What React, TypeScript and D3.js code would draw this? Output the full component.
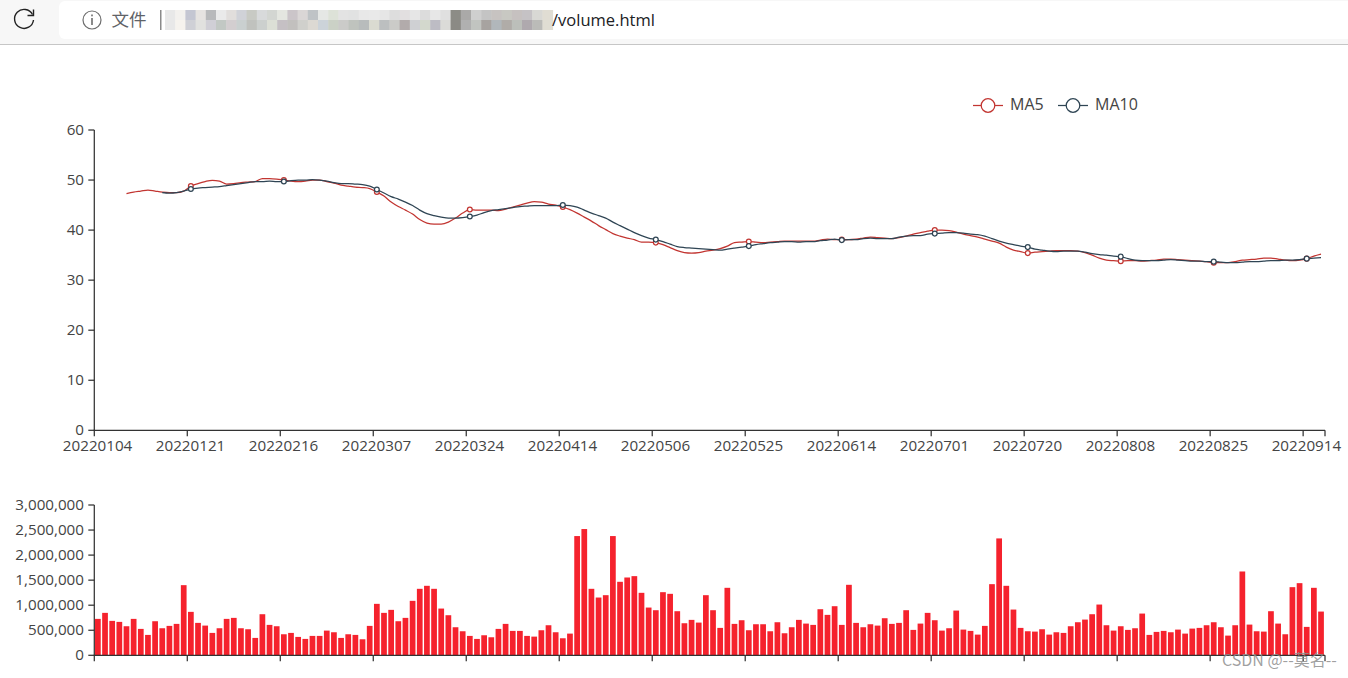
import React from "react";
import * as d3 from "d3";

const tickLabels = ["20220104","20220121","20220216","20220307","20220324","20220414","20220506","20220525","20220614","20220701","20220720","20220808","20220825","20220914"];
const tickEvery = 13;
const ma5Start = 4;
const ma10Start = 9;

const ma5 = [47.3,47.6,47.8,48,47.8,47.6,47.5,47.5,47.8,48.8,49.3,49.7,49.95,49.8,49.2,49.3,49.5,49.6,49.7,50.3,50.3,50.2,50,49.8,49.7,49.8,50,50,49.7,49.4,49,48.8,48.6,48.5,48.3,47.6,46.8,45.6,44.7,44,43.2,42.1,41.4,41.2,41.2,41.6,42.4,43.4,44.1,44,44,44,43.9,44.2,44.6,45,45.4,45.7,45.6,45.2,45,44.6,44.1,43.4,42.6,41.8,40.9,40.1,39.3,38.8,38.4,38.1,37.6,37.6,37.5,37.1,36.5,35.9,35.5,35.4,35.5,35.8,36,36.3,36.8,37.5,37.6,37.7,37.6,37.5,37.6,37.7,37.8,37.8,37.8,37.8,37.8,38,38.2,38.1,38.1,38.1,38.2,38.4,38.6,38.5,38.4,38.3,38.5,38.8,39.2,39.5,39.8,40,40,39.9,39.6,39.2,38.9,38.6,38.2,37.8,37.4,36.6,36,35.7,35.4,35.6,35.7,35.8,35.9,35.9,35.9,35.8,35.5,35,34.4,34,33.9,33.8,33.9,33.9,33.8,33.9,34,34.2,34.2,34.1,34,33.9,33.8,33.7,33.5,33.5,33.5,33.7,34,34.1,34.2,34.4,34.4,34.2,34,33.9,34,34.3,34.8,35.2];

const ma10 = [47.5,47.4,47.5,47.8,48.2,48.4,48.5,48.6,48.7,48.9,49.1,49.3,49.5,49.7,49.7,49.8,49.7,49.7,49.9,50,50,50.1,50,49.8,49.5,49.3,49.3,49.2,49.1,48.8,48.1,47.4,46.7,46.2,45.6,44.9,44,43.3,42.9,42.6,42.4,42.4,42.5,42.7,43,43.5,43.9,44.1,44.3,44.5,44.7,44.8,44.9,44.9,44.9,44.9,45,44.9,44.6,44,43.4,42.9,42.4,41.6,40.9,40.2,39.5,38.9,38.4,38.1,37.7,37.2,36.7,36.5,36.4,36.3,36.2,36.1,36,36.2,36.4,36.6,36.8,37.1,37.3,37.5,37.6,37.7,37.7,37.6,37.7,37.7,37.9,38,38.2,38,38.1,38.1,38.3,38.4,38.3,38.3,38.3,38.6,38.8,38.9,38.9,39.2,39.3,39.4,39.5,39.5,39.4,39.2,39.1,38.8,38.3,37.8,37.4,37.1,36.8,36.6,36.2,36,35.8,35.7,35.8,35.8,35.8,35.6,35.3,35.1,35,34.8,34.7,34.3,34,33.9,33.9,33.9,34,34.1,34,33.9,33.8,33.8,33.7,33.7,33.6,33.5,33.5,33.6,33.7,33.7,33.8,33.9,33.9,34,34,34.1,34.3,34.4,34.5];

const volume = [727,847,687,667,580,727,527,407,680,540,587,627,1400,867,647,593,447,540,727,747,540,520,347,820,607,580,420,447,367,327,387,387,493,460,347,420,407,320,587,1027,847,907,680,747,1087,1327,1387,1327,933,800,560,480,387,327,400,360,527,627,487,487,387,373,500,600,460,340,433,2380,2520,1327,1153,1200,2380,1467,1553,1580,1247,953,900,1260,1227,880,640,707,653,1200,900,547,1347,627,700,500,620,620,480,660,440,560,707,633,607,920,807,980,607,1407,647,560,620,593,740,627,647,900,507,633,847,700,493,540,893,513,487,413,587,1420,2333,1387,913,547,480,473,520,413,460,447,580,660,713,820,1013,600,493,580,507,540,833,407,467,487,460,513,433,533,547,600,660,560,393,600,1673,613,480,473,880,633,420,1360,1440,567,1347,873];

const priceTicks = [0,10,20,30,40,50,60];
const volumeTicks = [0,500000,1000000,1500000,2000000,2500000,3000000];

const mosaicTop = ["#e8e8e8","#f3f1ee","#c4c6d2","#e6e3e1","#b8b9bb","#eaeaea","#e1dedc","#d0d2d8","#c8cac4","#d8dadb","#d3d6d2","#e4e6e0","#cbc5c9","#dad6d6","#bfc3c6","#e5e7e5","#dde2d8","#e3e3e3","#e1e2e2","#e8e8e8","#e9e9e9","#e6e6e6","#dddddd","#e2dfe0","#e6e6e6","#dcdcdc","#e7e7e7","#e0e0e0","#8c8c86","#aaa9a8","#cfcfcf","#c4c4c4","#c7c3c1","#c8c8c2","#c6c1c0","#c5c2c5","#d8d8d4","#e0ddd3"];
const mosaicBottom = ["#e8e8e8","#f6f3ee","#cfd0d6","#e1e1df","#d0cfd6","#c2c8c4","#d3ced0","#cad0d0","#c0c2be","#ccd0ce","#dcdfd6","#c5c0c4","#c2c0be","#d0d0cc","#dcd9d3","#ccd3d9","#cbd1c6","#cbcbc9","#bfc3be","#b8bcbc","#dadbd1","#bcbfc0","#cbcbc8","#b2abab","#cfd0d3","#d3d8cd","#bdbcc4","#dbdbd8","#8b8a85","#b0b0b0","#c1c4c0","#a7a3a0","#b1b7bb","#b0aca8","#bcbfba","#afa9ae","#bbbbb8","#e0ddd3"];
const mosaicStart = 165;
const mosaicBlock = 10.2;

const W = 1348, H = 678;
const left = 94.3, right = 1325;
const FONT = "'Open Sans','Noto Sans CJK SC',sans-serif";
const AXIS = "#333";
const TEXT = "#444";
const RED = "#c23531";
const NAVY = "#2f4554";
const BAR = "#f5222d";

const n = volume.length;
const xBand = d3.scaleBand<number>().domain(d3.range(n)).range([left, right - 0.4]).paddingInner(0.2).paddingOuter(0.1);
const cx = (i: number) => (xBand(i) as number) + xBand.bandwidth() / 2;
const tickX = (i: number) => left + xBand.step() * i;

const yPrice = d3.scaleLinear().domain([0, 60]).range([430.3, 130]);
const yVol = d3.scaleLinear().domain([0, 3000000]).range([655.3, 505]);

const mk = (start: number) =>
  d3.line<number>().x((_, i) => cx(start + i)).y((d) => yPrice(d)).curve(d3.curveMonotoneX);

const tickIdx = tickLabels.map((_, i) => i * tickEvery);
const tickXs = [...tickIdx.map(tickX), right];

function Series({ data, start, color }: { data: number[]; start: number; color: string }) {
  return (
    <g>
      <path d={mk(start)(data) as string} fill="none" stroke={color} strokeWidth={1.25} />
      {tickIdx.filter((i) => i >= start).map((i) => (
        <circle key={i} cx={cx(i)} cy={yPrice(data[i - start])} r={2.4} fill="#fff" stroke={color} strokeWidth={1.25} />
      ))}
    </g>
  );
}

function LegendItem({ x, color, label }: { x: number; color: string; label: string }) {
  return (
    <g>
      <line x1={x} x2={x + 30} y1={105.5} y2={105.5} stroke={color} strokeWidth={1.25} />
      <circle cx={x + 15} cy={105.5} r={6.8} fill="#fff" stroke={color} strokeWidth={1.25} />
      <text x={x + 37} y={104.3} dominantBaseline="central" fontSize={16} fill={TEXT}>{label}</text>
    </g>
  );
}

export default function App() {
  return (
    <svg width={W} height={H} viewBox={`0 0 ${W} ${H}`} fontFamily={FONT}
      style={{ position: "absolute", left: 0, top: 0, display: "block", background: "#fff" }}>
      {/* browser bar */}
      <rect x={0} y={0} width={W} height={44} fill="#f7f7f7" />
      <rect x={0} y={44} width={W} height={1} fill="#c6c6c6" />
      <rect x={59} y={1} width={W} height={38} rx={6} fill="#fff" />
      <path d="M32.5 14.5 A9.5 9.5 0 1 0 33.5 20" fill="none" stroke="#222" strokeWidth={1.4} />
      <path d="M33.5 9.5 V15.5 H27.5" fill="none" stroke="#222" strokeWidth={1.4} />
      <circle cx={92} cy={20} r={9} fill="none" stroke="#6e6e6e" strokeWidth={1.2} />
      <rect x={91.2} y={18} width={1.6} height={7} fill="#6e6e6e" />
      <rect x={91.2} y={14.5} width={1.6} height={1.8} fill="#6e6e6e" />
      <text x={111.5} y={25.5} fontSize={17.5} fill="#5f6368" fontFamily="'Noto Sans CJK SC',sans-serif">文件</text>
      <rect x={160} y={10} width={1.5} height={20} fill="#8a8a8a" />
      {mosaicTop.map((c, i) => (
        <rect key={`t${i}`} x={mosaicStart + i * mosaicBlock} y={10} width={mosaicBlock + 0.5} height={10.5} fill={c} />
      ))}
      {mosaicBottom.map((c, i) => (
        <rect key={`b${i}`} x={mosaicStart + i * mosaicBlock} y={20} width={mosaicBlock + 0.5} height={10} fill={c} />
      ))}
      <text x={552} y={26} fontSize={16.5} fill="#202124" fontFamily="'Open Sans',sans-serif">/volume.html</text>

      {/* legend */}
      <LegendItem x={973} color={RED} label="MA5" />
      <LegendItem x={1058} color={NAVY} label="MA10" />

      {/* upper chart */}
      <g stroke={AXIS} strokeWidth={1.25} fill="none">
        <line x1={left} x2={left} y1={130} y2={430.3} />
        <line x1={left - 0.6} x2={right} y1={430.3} y2={430.3} />
        {priceTicks.map((t) => <line key={t} x1={left - 6} x2={left} y1={yPrice(t)} y2={yPrice(t)} />)}
        {tickXs.map((x, i) => <line key={i} x1={x} x2={x} y1={430.3} y2={436.3} />)}
      </g>
      {priceTicks.map((t) => (
        <text key={t} x={84} y={yPrice(t) - 1} textAnchor="end" dominantBaseline="central" fontSize={15.2} fill={TEXT}>{t}</text>
      ))}
      {tickLabels.map((l, i) => (
        <text key={l} x={cx(tickIdx[i]) - 0.3} y={445} textAnchor="middle" dominantBaseline="central" fontSize={15.2} fill={TEXT}>{l}</text>
      ))}
      <Series data={ma5} start={ma5Start} color={RED} />
      <Series data={ma10} start={ma10Start} color={NAVY} />

      {/* lower chart */}
      {volume.map((v, i) => (
        <rect key={i} x={xBand(i)} y={yVol(v * 1000)} width={xBand.bandwidth()} height={yVol(0) - yVol(v * 1000)} fill={BAR} />
      ))}
      <g stroke={AXIS} strokeWidth={1.25} fill="none">
        <line x1={left} x2={left} y1={505} y2={655.3} />
        <line x1={left - 0.6} x2={right} y1={655.3} y2={655.3} />
        {volumeTicks.map((t) => <line key={t} x1={left - 6} x2={left} y1={yVol(t)} y2={yVol(t)} />)}
        {tickXs.map((x, i) => <line key={i} x1={x} x2={x} y1={655.3} y2={661.3} />)}
      </g>
      {volumeTicks.map((t) => (
        <text key={t} x={84} y={yVol(t) - 1.5} textAnchor="end" dominantBaseline="central" fontSize={15.2} fill={TEXT}>{d3.format(",")(t)}</text>
      ))}

      {/* watermark */}
      <text x={1222} y={666} fontSize={16} fill="#8f8f8f" fillOpacity={0.85} fontFamily="'Noto Sans CJK SC',sans-serif">CSDN @--莫名--</text>
    </svg>
  );
}
